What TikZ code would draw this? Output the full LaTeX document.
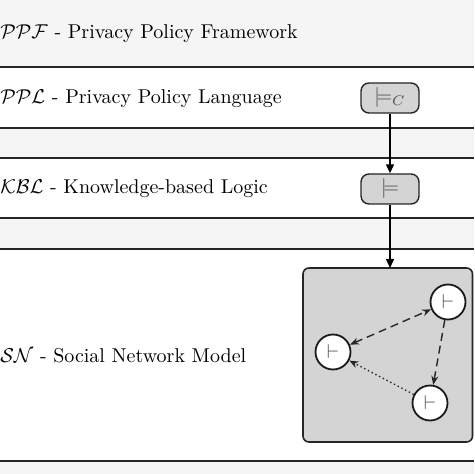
\documentclass[tikz,border=0pt]{standalone}
\usetikzlibrary{arrows.meta}
\begin{document}
\begin{tikzpicture}[x=0.5pt,y=-0.5pt,
  bandfill/.style={fill=black!4},
  bandline/.style={draw=black!85,line width=0.8pt},
  label/.style={anchor=base west,inner sep=0pt,font=\normalsize},
  opbox/.style={draw=black!85,fill=black!17,rounded corners=4pt,line width=0.7pt,minimum width=29pt,minimum height=15pt,inner sep=0pt,text=black!70},
  agent/.style={circle,draw=black!90,fill=white,line width=0.9pt,minimum size=17.5pt,inner sep=0pt,text=black!70},
  flow/.style={line width=0.7pt,-{Triangle[length=4.5pt,width=4pt]}},
  rel/.style={line width=0.7pt,black!85},
  reltip/.tip={Stealth[length=4.5pt,width=3.5pt]}]
\useasboundingbox (0,0) rectangle (474,474);
% bands
\fill[bandfill] (0,0) rectangle (474,67);
\fill[bandfill] (0,128) rectangle (474,158);
\fill[bandfill] (0,218) rectangle (474,249);
\fill[bandfill] (0,461) rectangle (474,474);
\foreach \yy in {67,128,158,218,249,461}
  \draw[bandline] (0,\yy) -- (474,\yy);
% layer labels
\node[label] (tppf) at (0,39) {$\mathcal{PPF}$ - Privacy Policy Framework};
\node[label] (tppl) at (0,104) {$\mathcal{PPL}$ - Privacy Policy Language};
\node[label] (tkbl) at (0,194) {$\mathcal{KBL}$ - Knowledge-based Logic};
\node[label] (tsn) at (0,362) {$\mathcal{SN}$ - Social Network Model};
% operator boxes
\node[opbox] (mc) at (390,98) {$\models_C$};
\node[opbox] (m) at (390,189) {$\models$};
% social network box
\draw[draw=black!85,fill=black!17,rounded corners=3pt,line width=0.8pt] (303,268) rectangle (472.5,442);
\coordinate (snt) at (390,268);
\draw[flow] (mc.south) -- (m.north);
\draw[flow] (m.south) -- (snt);
% agents
\node[agent] (a) at (448,302) {$\vdash$};
\node[agent] (b) at (333,352) {$\vdash$};
\node[agent] (c) at (430,403) {$\vdash$};
\draw[rel,dash pattern=on 4pt off 2.5pt,{reltip}-{reltip}] (b) -- (a);
\draw[rel,dash pattern=on 4pt off 2.5pt,-{reltip}] (a) -- (c);
\draw[rel,dash pattern=on 0.7pt off 1.4pt,-{reltip}] (c) -- (b);
\end{tikzpicture}
\end{document}
